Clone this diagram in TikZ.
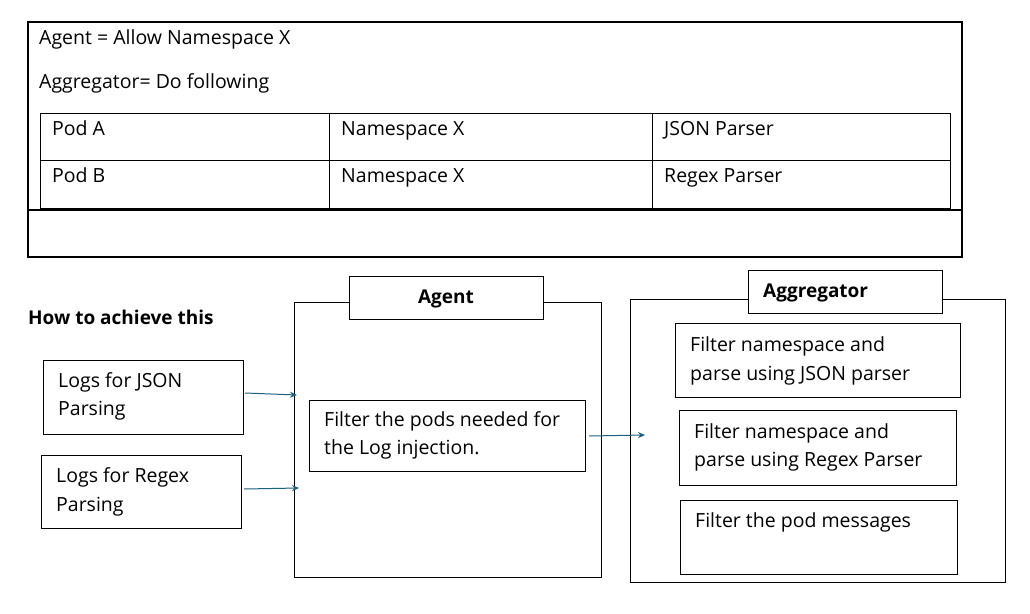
\documentclass[tikz,border=0pt]{standalone}
\usepackage{fontspec}
\setmainfont{Open Sans}
\usetikzlibrary{arrows.meta}
\begin{document}
\begin{tikzpicture}[x=1pt,y=-1pt,
  box/.style={draw=black,line width=1pt},
  txt/.style={anchor=west,inner sep=0pt,text height=11pt,text depth=3pt,yshift=-2pt,font=\fontsize{19.5}{23}\selectfont},
  btxt/.style={txt,font=\fontsize{19}{23}\selectfont\bfseries},
  arr/.style={draw=arrowc,line width=1pt,-{Stealth[length=7pt,width=6pt]}}]
\definecolor{arrowc}{HTML}{1F5F7F}
\useasboundingbox[fill=white] (0,0) rectangle (1030,613);
% top panel
\draw[box,line width=1.4pt] (28,22) rectangle (962,257);
\draw[box,line width=1.8pt] (28,210) -- (962,210);
\draw[box] (40,113) rectangle (950,208);
\draw[box] (40,160) -- (950,160);
\draw[box] (329,113) -- (329,208);
\draw[box] (652,113) -- (652,208);
\node[txt] (t1) at (39,38) {Agent = Allow Namespace X};
\node[txt] (t2) at (39,82) {Aggregator= Do following};
\node[txt] (c11) at (52,129) {Pod A};
\node[txt] (c12) at (341,129) {Namespace X};
\node[txt] (c13) at (664,129) {JSON Parser};
\node[txt] (c21) at (52,176) {Pod B};
\node[txt] (c22) at (341,176) {Namespace X};
\node[txt] (c23) at (664,176) {Regex Parser};
% bottom
\node[btxt] (how) at (28,318) {How to achieve this};
\draw[box] (43,360) rectangle (243,434);
\node[txt] (l1a) at (58,381) {Logs for JSON};
\node[txt] (l1b) at (58,409) {Parsing};
\draw[box] (41,455) rectangle (241,528);
\node[txt] (l2a) at (56,476) {Logs for Regex};
\node[txt] (l2b) at (56,505) {Parsing};
% agent
\draw[box] (294,302) rectangle (601,577);
\draw[box,fill=white] (349,276) rectangle (543,319);
\node[btxt,anchor=center] (ag) at (446,297) {Agent};
\draw[box] (309,400) rectangle (585,471);
\node[txt] (f1) at (324,420) {Filter the pods needed for};
\node[txt] (f2) at (324,448) {the Log injection.};
% aggregator
\draw[box] (630,299) rectangle (1005,582);
\draw[box,fill=white] (748,270) rectangle (942,313);
\node[btxt] (agg) at (763,291) {Aggregator};
\draw[box] (675,323) rectangle (960,397);
\node[txt] (g1a) at (690,345) {Filter namespace and};
\node[txt] (g1b) at (690,374) {parse using JSON parser};
\draw[box] (679,410) rectangle (956,485);
\node[txt] (g2a) at (694,432) {Filter namespace and};
\node[txt] (g2b) at (694,460) {parse using Regex Parser};
\draw[box] (680,500) rectangle (957,574);
\node[txt] (g3) at (695,521) {Filter the pod messages};
% arrows
\coordinate (a1s) at (245,393); \coordinate (a1e) at (297,395);
\coordinate (a2s) at (244,489); \coordinate (a2e) at (299,488);
\coordinate (a3s) at (589,436); \coordinate (a3e) at (645,435);
\draw[arr] (a1s) -- (a1e);
\draw[arr] (a2s) -- (a2e);
\draw[arr] (a3s) -- (a3e);
\end{tikzpicture}
\end{document}
